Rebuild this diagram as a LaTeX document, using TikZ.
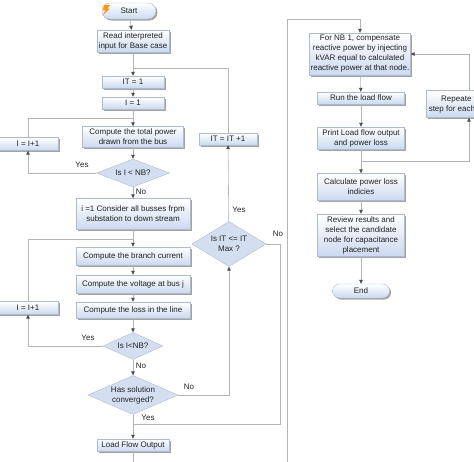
\documentclass[tikz,border=0pt]{standalone}
\usepackage{fontspec}
\setmainfont{Liberation Sans}
\usetikzlibrary{shapes.geometric,shapes.misc,shadows,arrows.meta}
\definecolor{linegray}{HTML}{B4B4B4}
\definecolor{tipgray}{HTML}{4A4A4A}
\definecolor{boxbot}{HTML}{CBD9F0}
\definecolor{boxline}{HTML}{AEBACE}
\definecolor{dmdfill}{HTML}{D3DEF1}
\definecolor{txtgray}{HTML}{222222}
\tikzset{
    box/.style={draw=boxline, line width=0.4pt, top color=white, bottom color=boxbot,
        drop shadow={shadow xshift=1.5pt, shadow yshift=-1.5pt, fill=black!60, opacity=0.6},
        inner sep=1pt, align=center, text=txtgray},
    pill/.style={box, rounded rectangle},
    dmd/.style={diamond, draw=boxline, line width=0.4pt, fill=dmdfill, inner sep=0pt,
        align=center, text=txtgray},
    line/.style={draw=linegray, line width=0.6pt},
    arr/.style={line, -{Triangle[length=4pt,width=3.5pt,color=tipgray]}},
    lbl/.style={text=txtgray, inner sep=0pt}
}
\begin{document}
\begin{tikzpicture}[x=1pt, y=-1pt, font=\fontsize{8}{10}\selectfont]
            \clip (0,0) rectangle (474,461);
            \node[pill, minimum width=56, minimum height=16] (start) at (129,11) {Start};
            \fill[orange!85!yellow] (104,5) -- (110,5) -- (107.5,8.5) -- (110,8.5) -- (103,15) -- (105.5,10) -- (103,10) -- cycle;
            \node[box, minimum width=72, minimum height=22] (read) at (133,41) {Read interpreted\\input for Base case};
            \node[box, minimum width=62, minimum height=12] (it1) at (133,82) {IT = 1};
            \node[box, minimum width=62, minimum height=12] (i1) at (133,103) {I = 1};
            \node[box, minimum width=101, minimum height=21] (power) at (133,137) {Compute the total power\\drawn from the bus};
            \node[box, minimum width=60, minimum height=13] (incA) at (28,144) {I = I+1};
            \node[dmd, shape aspect=2.6, minimum width=73, minimum height=28] (nbA) at (133,173) {Is I < NB?};
            \node[box, minimum width=114, minimum height=31] (busses) at (133,214) {i =1 Consider all busses frpm\\substation to down stream};
            \node[box, minimum width=114, minimum height=18] (branch) at (133,256) {Compute the branch current};
            \node[box, minimum width=114, minimum height=18] (volt) at (133,284) {Compute the voltage at bus j};
            \node[box, minimum width=114, minimum height=16] (loss) at (133,310) {Compute the loss in the line};
            \node[box, minimum width=60, minimum height=13] (incB) at (28,308) {I = I+1};
            \node[dmd, shape aspect=2.2, minimum width=60, minimum height=27] (nbB) at (133,346) {Is I<NB?};
            \node[dmd, shape aspect=2.3, minimum width=90, minimum height=39] (conv) at (133,395) {Has solution\\converged?};
            \node[box, minimum width=72, minimum height=12] (lfo) at (133,445) {Load Flow Output};
            \node[box, minimum width=58, minimum height=12] (itinc) at (228,139) {IT = IT +1};
            \node[dmd, shape aspect=1.65, minimum width=74, minimum height=45] (itmax) at (229,244) {Is IT <= IT\\Max ?};
            \node[box, minimum width=98, minimum height=42] (fornb) at (360,54) {For NB 1, compensate\\reactive power by injecting\\kVAR equal to calculated\\reactive power at that node.};
            \node[box, minimum width=87, minimum height=12] (run) at (361,98) {Run the load flow};
            \node[box, minimum width=87, minimum height=22] (print) at (361,138) {Print Load flow output\\and power loss};
            \node[box, minimum width=87, minimum height=27] (calc) at (361,187) {Calculate power loss\\indicies};
            \node[box, minimum width=87, minimum height=42] (review) at (361,235) {Review results and\\select the candidate\\node for capacitance\\placement};
            \node[pill, minimum width=59, minimum height=14] (end) at (361,291) {End};
            \node[box, minimum width=74, minimum height=27] (repeat) at (463,104) {Repeate the\\step for each node.};
            \coordinate (jIT) at (133,68);
            \coordinate (jI) at (133,118);
            \coordinate (jB) at (133,239);
            \coordinate (jL) at (133,424);
            \coordinate (cNo) at (280,424);
            \coordinate (lfoB) at (133,470);
            \coordinate (sepB) at (287,470);
            \coordinate (sepT) at (287,19);
            \coordinate (jP) at (361,161);
            \draw[arr] (start) -- (read);
            \draw[arr] (read) -- (it1);
            \draw[line] (itinc.north) |- (jIT);
            \draw[arr] (it1) -- (i1);
            \draw[arr] (i1) -- (power);
            \draw[line] (incA.north) |- (jI);
            \draw[arr] (power) -- (nbA);
            \draw[arr] (nbA.west) -| (incA.south);
            \draw[arr] (nbA) -- (busses);
            \draw[line] (incB.north) |- (jB);
            \draw[arr] (busses) -- (branch);
            \draw[arr] (branch) -- (volt);
            \draw[arr] (volt) -- (loss);
            \draw[arr] (loss) -- (nbB);
            \draw[arr] (nbB.west) -| (incB.south);
            \draw[arr] (nbB) -- (conv);
            \draw[arr] (conv.east) -| (itmax.south);
            \draw[arr] (itmax) -- (itinc);
            \draw[line] (itmax.east) -| (cNo) -- (jL);
            \draw[arr] (conv) -- (lfo);
            \draw[arr] (lfo) -- (lfoB) -- (sepB) -- (sepT) -| (fornb.north);
            \draw[arr] (fornb) -- (run);
            \draw[arr] (run) -- (print);
            \draw[arr] (print) -- (calc);
            \draw[arr] (calc) -- (review);
            \draw[arr] (review) -- (end);
            \draw[arr] (jP) -| ([xshift=6pt]repeat.south);
            \draw[arr] ([xshift=6pt]repeat.north) |- (fornb.east);
            \node[lbl] (yesA) at (82,165) {Yes};
            \node[lbl] (noA) at (141,192) {No};
            \node[lbl] (yesB) at (88,338) {Yes};
            \node[lbl] (noB) at (141,366) {No};
            \node[lbl] (noC) at (189,387) {No};
            \node[lbl] (yesC) at (148,418) {Yes};
            \node[lbl] (yesD) at (239,210) {Yes};
            \node[lbl] (noD) at (278,234) {No};
\end{tikzpicture}
\end{document}
